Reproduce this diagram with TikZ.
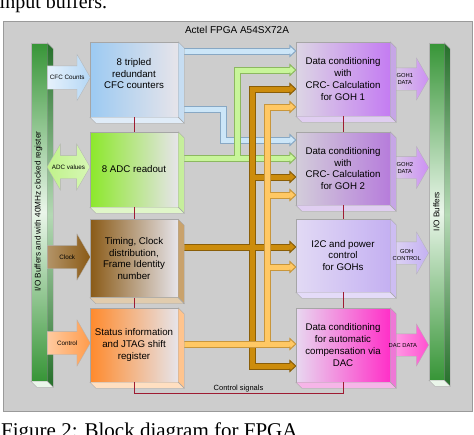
\documentclass[tikz,border=0pt]{standalone}
\usepackage{fontspec}
\setmainfont{Liberation Serif}
\newfontfamily\blockfont{Liberation Sans}
\usetikzlibrary{shapes.arrows, calc, backgrounds}

% Colours
\definecolor{fpgabg}{HTML}{CDCDCD}
\definecolor{fpgaedge}{HTML}{9A9A9A}
\definecolor{ctrlred}{HTML}{9E1B32}
\definecolor{iogreen}{HTML}{379537}
\definecolor{iodark}{HTML}{256F2A}
\definecolor{iolight}{HTML}{EAF6EA}
\definecolor{blockgray}{HTML}{E6E4EA}
\definecolor{cfcblue}{HTML}{9CCAF2}
\definecolor{cfcside}{HTML}{C6DDF2}
\definecolor{adcgreen}{HTML}{8CE82A}
\definecolor{adcside}{HTML}{C6EE9C}
\definecolor{timbrown}{HTML}{8A5A16}
\definecolor{timside}{HTML}{C9A26C}
\definecolor{statorange}{HTML}{FF8A2C}
\definecolor{statside}{HTML}{FFC48E}
\definecolor{gohgray}{HTML}{DCD6E4}
\definecolor{gohpurple}{HTML}{C47CF2}
\definecolor{gohside}{HTML}{C6A6E6}
\definecolor{i2clight}{HTML}{E2DAF4}
\definecolor{i2clav}{HTML}{C4B0F2}
\definecolor{i2cside}{HTML}{CDBDF2}
\definecolor{daclight}{HTML}{E8D8F0}
\definecolor{dacpink}{HTML}{FF30C8}
\definecolor{dacside}{HTML}{EE78D6}
% bus colours
\definecolor{busblue}{HTML}{CCE6F8}
\definecolor{busblueedge}{HTML}{88A8C4}
\definecolor{busgreen}{HTML}{C8F59A}
\definecolor{busgreenedge}{HTML}{8CB860}
\definecolor{busgold}{HTML}{CC8C0C}
\definecolor{busgoldedge}{HTML}{8A5E08}
\definecolor{busorange}{HTML}{FFC864}
\definecolor{busorangeedge}{HTML}{C8963C}

\tikzset{
  block/.style={rectangle, draw=black!35, line width=0.4pt, inner sep=0pt, align=center,
    font=\blockfont\fontsize{9.7}{11.7}\selectfont},
  lblock/.style={block, minimum width=88pt},
  rblock/.style={block, minimum width=94pt},
  side/.style={draw=black!35, line width=0.4pt},
  iobar/.style={rectangle, draw=black!30, inner sep=0pt, top color=iogreen, bottom color=iogreen, middle color=iolight},
  bartext/.style={rotate=90, inner sep=0pt, font=\blockfont\fontsize{8.2}{9}\selectfont},
  bigarrow/.style={single arrow, single arrow tip angle=120, single arrow head extend=11.5pt,
    inner xsep=0pt, inner ysep=11.5pt, text height=0pt, text depth=0pt, draw=black!30, line width=0.3pt},
  outarrow/.style={bigarrow, single arrow head extend=10pt, inner ysep=11pt},
  arrowtext/.style={inner sep=0pt, align=center, font=\blockfont\fontsize{6.3}{7}\selectfont},
  outtext/.style={inner sep=0pt, align=center, font=\blockfont\fontsize{5.8}{7}\selectfont},
  bus/.style={line width=5pt, draw=#1, preaction={draw=#1edge, line width=7pt}},
  bushead/.pic={
    \path[pic actions, draw=none] (0,0) -- (-6,-5.5) -- (-6,5.5) -- cycle;
    \path[pic actions, fill=none] (-6,-2.6) -- (-6,-5.5) -- (0,0) -- (-6,5.5) -- (-6,2.6);
  },
  ctrl/.style={draw=ctrlred, line width=1pt},
}

\begin{document}
\begin{tikzpicture}[x=1pt, y=-1pt]
  \useasboundingbox (0,0) rectangle (474,434);
  \clip (0,0) rectangle (474,434);

  % Page text around the figure
  \node[anchor=base west, inner sep=0pt, font=\fontsize{20}{24}\selectfont] (prevline) at (-0.5,8.5) {input buffers.};
  \node[anchor=base west, inner sep=0pt, font=\fontsize{21}{24}\selectfont] (caption) at (1,437) {Figure 2: Block diagram for FPGA};

  % FPGA frame
  \begin{scope}[on background layer]
    \node[draw=fpgaedge, fill=fpgabg, minimum width=469pt, minimum height=390pt, inner sep=0pt] (fpga) at (237.5,216) {};
  \end{scope}
  \node[inner sep=0pt, font=\blockfont\fontsize{10}{12}\selectfont] (title) at (237,30) {Actel FPGA A54SX72A};

  % I/O bars
  \node[iobar, minimum width=16pt, minimum height=338pt] (lbar) at (39,212) {};
  \node[iobar, minimum width=15pt, minimum height=337pt] (rbar) at (436.5,211.5) {};
  \foreach \b in {lbar, rbar} {
    \path[side, top color=iodark, bottom color=iodark, middle color=iolight!70!iogreen]
      (\b.north east) -- ++(6,6) -- ($(\b.south east)+(6,6)$) -- (\b.south east) -- cycle;
    \path[side, fill=iolight] (\b.south west) -- ++(6,6) -- ($(\b.south east)+(6,6)$) -- (\b.south east) -- cycle;
  }
  \node[bartext] (llabel) at (38.5,211.5) {I/O Buffers and with 40MHz clocked register};
  \node[bartext] (rlabel) at (rbar) {I/O Buffers};

  % Input arrows
  \node[bigarrow, minimum height=43pt, anchor=tail, left color=cfcblue!25, right color=cfcblue!75] (cfcin) at (lbar.east |- 0,77.5) {};
  \node[bigarrow, double arrow, double arrow tip angle=120, double arrow head extend=11.5pt, minimum height=43pt,
    left color=adcgreen!55, right color=adcgreen!35] (adcin) at (68.5,167) {};
  \node[bigarrow, minimum height=43pt, anchor=tail, left color=timbrown!65, right color=timbrown] (clkin) at (lbar.east |- 0,257) {};
  \node[bigarrow, minimum height=43pt, anchor=tail, left color=statorange!45, right color=statorange!85] (ctrlin) at (lbar.east |- 0,343) {};
  \node[arrowtext] (cfcintext) at ([xshift=20pt]cfcin.tail) {CFC Counts};
  \node[arrowtext] (adcintext) at (adcin) {ADC values};
  \node[arrowtext] (clkintext) at ([xshift=20pt]clkin.tail) {Clock};
  \node[arrowtext] (ctrlintext) at ([xshift=20pt]ctrlin.tail) {Control};

  % Output arrows
  \node[outarrow, minimum height=42pt, anchor=tip, left color=gohgray, right color=gohpurple!85] (goh1out) at (rbar.west |- 0,79) {};
  \node[outarrow, minimum height=42pt, anchor=tip, left color=gohgray, right color=gohpurple!85] (goh2out) at (rbar.west |- 0,167.5) {};
  \node[outarrow, minimum height=42pt, anchor=tip, left color=i2clight, right color=i2clav] (i2cout) at (rbar.west |- 0,253) {};
  \node[outarrow, minimum height=42pt, anchor=tip, left color=dacpink!40, right color=dacpink!85] (dacout) at (rbar.west |- 0,345) {};

  % Blocks
  \node[lblock, minimum height=75pt, left color=cfcblue, right color=blockgray] (cfc) at (134,79.5) {8 tripled\\redundant\\CFC counters\\[0pt]\mbox{}};
  \node[lblock, minimum height=75pt, left color=adcgreen, right color=blockgray] (adc) at (134,169.5) {8 ADC readout};
  \node[lblock, minimum height=78pt, left color=timbrown, right color=blockgray] (timing) at (134,258.5) {Timing, Clock\\distribution,\\Frame Identity\\number};
  \node[lblock, minimum height=74pt, left color=statorange, right color=blockgray] (status) at (134,345) {Status information\\and JTAG shift\\register};
  \node[rblock, minimum height=74pt, left color=gohgray, right color=gohpurple] (goh1) at (343,79) {Data conditioning\\with\\CRC- Calculation\\for GOH 1};
  \node[rblock, minimum height=73pt, left color=gohgray!90!gray, right color=gohpurple!80!gray] (goh2) at (343,168.5) {Data conditioning\\with\\CRC- Calculation\\for GOH 2};
  \node[rblock, minimum height=73pt, left color=i2clight, right color=i2clav] (i2c) at (343,255.5) {I2C and power\\control\\for GOHs};
  \node[rblock, minimum height=74pt, left color=daclight, right color=dacpink] (dac) at (343,345) {Data conditioning\\for automatic\\compensation via\\DAC};
  \foreach \b/\c in {cfc/cfcside, adc/adcside, timing/timside, status/statside, goh1/gohside, goh2/gohside, i2c/i2cside, dac/dacside} {
    \path[side, fill=\c] (\b.north east) -- ++(6,6) -- ($(\b.south east)+(6,6)$) -- (\b.south east) -- cycle;
    \path[side, fill=\c!55!white] (\b.south west) -- ++(6,6) -- ($(\b.south east)+(6,6)$) -- (\b.south east) -- cycle;
  }

  % Output arrow labels
  \node[outtext] (goh1outtext) at ([xshift=-24pt]goh1out.tip) {GOH1\\DATA};
  \node[outtext] (goh2outtext) at ([xshift=-24pt]goh2out.tip) {GOH2\\DATA};
  \node[outtext] (i2couttext) at ([xshift=-22pt, yshift=-2pt]i2cout.tip) {GOH\\CONTROL};
  \node[outtext] (dacouttext) at ([xshift=-26pt]dacout.tip) {DAC DATA};

  % Control signals
  \draw[ctrl] (cfc.south) -- (adc.north);
  \draw[ctrl] (adc.south) -- (timing.north);
  \draw[ctrl] (timing.south) -- (status.north);
  \draw[ctrl] (goh1.south) -- (goh2.north);
  \draw[ctrl] (goh2.south) -- (i2c.north);
  \draw[ctrl] (i2c.south) -- (dac.north);
  \coordinate (sigl) at (status.south |- 0,393);
  \coordinate (sigr) at (dac.south |- 0,393);
  \draw[ctrl] (status.south) -- (sigl) -- node[above=0.5pt, inner sep=0pt, text=black, font=\blockfont\fontsize{7.5}{9}\selectfont] (siglabel) {Control signals} (sigr) -- (dac.south);

  % Buses
  \begin{scope}[on background layer]
    \coordinate (busend) at ($(goh1.west)+(-4,0)$);
    \draw[bus=busblue] (cfc.east |- 0,51) -- (busend |- 0,51)
      (cfc.east |- 0,109) -- (223,109) -- (223,140) -- (busend |- 0,140);
    \draw[bus=busgreen] (adc.east |- 0,158) -- (busend |- 0,158)
      (237,158) -- (237,70) -- (busend |- 0,70);
    \draw[bus=busgold] (timing.east |- 0,247) -- (busend |- 0,247)
      (busend |- 0,89) -- (252,89) -- (252,366) -- (busend |- 0,366)
      (252,177) -- (busend |- 0,177);
    \draw[bus=busorange] (status.east |- 0,344) -- (busend |- 0,344)
      (busend |- 0,107) -- (267,107) -- (267,344)
      (267,195) -- (busend |- 0,195)
      (267,267) -- (busend |- 0,267);
    \foreach \y in {51,140}
      \pic[fill=busblue, draw=busblueedge, line width=1pt] at (goh1.west |- 0,\y) {bushead};
    \foreach \y in {70,158}
      \pic[fill=busgreen, draw=busgreenedge, line width=1pt] at (goh1.west |- 0,\y) {bushead};
    \foreach \y in {89,177,247,366}
      \pic[fill=busgold, draw=busgoldedge, line width=1pt] at (goh1.west |- 0,\y) {bushead};
    \foreach \y in {107,195,267,344}
      \pic[fill=busorange, draw=busorangeedge, line width=1pt] at (goh1.west |- 0,\y) {bushead};
  \end{scope}
\end{tikzpicture}
\end{document}
